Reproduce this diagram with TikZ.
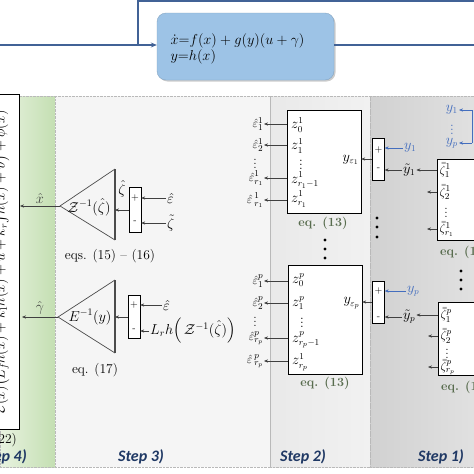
\documentclass[tikz,border=0pt]{standalone}
\usepackage{amsmath,amssymb}
\usepackage{fontspec}
\usepackage{xcolor}
\usetikzlibrary{arrows.meta,shadows}
\newfontfamily\stepfont{Carlito}
\definecolor{topblue}{RGB}{65,98,150}
\definecolor{boxblue}{RGB}{157,195,230}
\definecolor{stepblue}{RGB}{31,56,100}
\definecolor{eqgreen}{RGB}{88,108,78}
\definecolor{yblue}{RGB}{68,110,190}
\definecolor{greenL}{RGB}{232,242,224}
\definecolor{greenR}{RGB}{196,223,178}

\begin{document}
\begin{tikzpicture}[x=1pt,y=-1pt,
  sig/.style={-{Stealth[length=4pt,width=3.2pt]},black!75,line width=0.5pt},
  ysig/.style={sig,yblue},
  topline/.style={topblue,line width=1.4pt},
  sumbox/.style={draw,fill=white,minimum width=12pt,inner sep=0pt},
  zbox/.style={draw,fill=white,minimum width=74pt,inner sep=0pt},
  lbl/.style={inner sep=1pt,font=\fontsize{13.5}{15}\selectfont},
  elbl/.style={inner sep=0.5pt,font=\fontsize{12.5}{14}\selectfont},
  pm/.style={inner sep=0pt,font=\fontsize{10}{12}\selectfont},
  eqtxt/.style={inner sep=1pt,font=\fontsize{12.5}{14}\selectfont\bfseries,text=eqgreen},
  steptxt/.style={inner sep=1pt,font=\stepfont\fontsize{16}{18}\selectfont\bfseries\itshape,text=stepblue},
  dot/.style={circle,fill,inner sep=0pt,minimum size=3.2pt}]
\clip (0,0) rectangle (474,474);
\fill[white] (0,0) rectangle (474,474);

% plant on top
\node[draw=boxblue!85!black,fill=boxblue,rounded corners=9pt,minimum width=177pt,minimum height=67pt,
  drop shadow={shadow xshift=1.5pt,shadow yshift=-1.5pt,opacity=0.4}] (plant) at (245.5,46.5) {};
\node[anchor=west,align=left,font=\fontsize{15}{16.5}\selectfont] (plantxt) at (167,49)
  {$\dot x{=}f(x) + g(y)(u + \gamma)$\\ $y{=}h(x)$};
\coordinate (tin) at (0,45);
\coordinate (tsplit) at (138,45);
\coordinate (tout) at (474,45);
\coordinate (ttop) at (474,1);
\draw[topline,-{Stealth[length=6pt,width=5pt]}] (tin) -- (plant.west |- tin);
\draw[topline] (tsplit) |- (ttop);
\draw[topline] (plant.east |- tout) -- (tout);

% panels
\shade[left color=greenL,right color=greenR] (0,96) rectangle (55,467);
\fill[gray!8] (55,96) rectangle (270,467);
\shade[left color=gray!17,right color=gray!11] (270,96) rectangle (370,467);
\shade[left color=gray!36,right color=gray!24] (370,96) rectangle (474,467);
\foreach \xa/\xb in {0/55,55/270,270/370,370/480}
  \draw[gray!55,densely dotted] (\xa,96) rectangle (\xb,467);

% step 4
\node[draw,fill=white,minimum width=40pt,minimum height=335pt,inner sep=0pt] (ctrl) at (-1,262) {};
\node[rotate=90,font=\fontsize{14}{16}\selectfont] (ctrltxt) at (1,262)
  {$\mathcal{E}(x)\big(L_f h(x) + k_1 h(x) + u + k_r\!\int\! h(x) + \vartheta\big) + \phi(x)$};
\node[lbl,anchor=east] (eq22) at (18,440) {eq. (22)};
\node[steptxt,anchor=east] (st4) at (28,457) {Step 4)};

% step 3: x estimate
\coordinate (zt) at (60,206);
\coordinate (zu) at (115,169);
\coordinate (zl) at (115,240);
\draw[black!70,line width=0.7pt] (zu) -- (zt) -- (zl);
\draw[black!70,line width=1.2pt] (zu) -- (zl);
\node[font=\fontsize{14}{16}\selectfont] (zlab) at (89,207) {$\mathcal{Z}^{-1}(\hat\zeta)$};
\coordinate (xin) at (20,206);
\draw[sig] (zt) -- (xin) node[lbl,midway,above=1pt] (xh) {$\hat x$};
\node[sumbox,minimum height=45pt] (sb3) at (135,210) {};
\node[pm] (sb3p) at (135,198) {+};
\node[pm] (sb3m) at (135,222) {-};
\node[lbl] (zh3) at (122,189) {$\hat\zeta$};
\draw[sig] (sb3.west) -- (sb3.west -| zu);
\node[lbl,anchor=west] (eh3) at (166,198) {$\hat\varepsilon$};
\node[lbl,anchor=west] (zt3) at (166,223) {$\tilde\zeta$};
\draw[sig] (eh3.west) -- (eh3.west -| sb3.east);
\draw[sig] (zt3.west) -- (zt3.west -| sb3.east);
\node[lbl] (eq1516) at (110,256) {eqs. (15) -- (16)};

% step 3: gamma estimate
\coordinate (et) at (58,317);
\coordinate (eu) at (115,280);
\coordinate (el) at (115,353);
\draw[black!70,line width=0.7pt] (eu) -- (et) -- (el);
\draw[black!70,line width=1.2pt] (eu) -- (el);
\node[font=\fontsize{14}{16}\selectfont] (elab) at (90,317) {$E^{-1}(y)$};
\coordinate (gin) at (22,317);
\draw[sig] (et) -- (gin) node[lbl,midway,above=1pt] (gh) {$\hat\gamma$};
\node[sumbox,minimum height=43pt] (sb4) at (134,317) {};
\node[pm] (sb4p) at (134,305) {+};
\node[pm] (sb4m) at (134,330) {-};
\draw[sig] (sb4.west) -- (sb4.west -| eu);
\node[lbl,anchor=west] (eh4) at (162,305) {$\hat\varepsilon$};
\node[anchor=west,inner sep=1pt,font=\fontsize{14}{16}\selectfont] (lrh) at (149,331)
  {$L_r h\Big(\,\mathcal{Z}^{-1}(\hat\zeta)\Big)$};
\draw[sig] (eh4.west) -- (eh4.west -| sb4.east);
\draw[sig] (lrh.west) -- (lrh.west -| sb4.east);
\node[lbl] (eq17) at (95,370) {eq. (17)};
\node[steptxt] (st3) at (141,457) {Step 3)};

% step 2: first output
\node[zbox,minimum height=103pt] (zb1) at (324,161.5) {};
\foreach \n/\y/\lab in {0/125/{z_0^1},1/146/{z_1^1},2/180/{z^1_{r_1-1}},3/199/{z^1_{r_1}}}
  \node[lbl,anchor=west] (z1\n) at (290,\y) {$\lab$};
\node[lbl] (z1d) at (301,162) {$\vdots$};
\foreach \n/\y/\lab in {0/124/{\hat\varepsilon^1_1},1/145/{\hat\varepsilon^1_2},2/178/{\hat\varepsilon^1_{r_1}},3/200/{\hat\varepsilon\,{}^1_{r_1}}}{
  \node[elbl,anchor=east] (e1\n) at (264,\y) {$\lab$};
  \draw[sig] (zb1.west |- e1\n) -- (e1\n.east);
}
\node[elbl] (e1d) at (255,161) {$\vdots$};
\node[lbl,anchor=east] (ye1) at (360,160) {$y_{\varepsilon_1}$};
\node[eqtxt] (eq13a) at (323,223) {eq. (13)};
\foreach \y in {240,249,258}
  \node[dot] (d2\y) at (325,\y) {};

% step 2: last output
\node[zbox,minimum height=109pt] (zb2) at (325,319.5) {};
\foreach \n/\y/\lab in {0/280/{z_0^p},1/303/{z_1^p},2/340/{z^p_{r_p-1}},3/362/{z^1_{r_p}}}
  \node[lbl,anchor=west] (z2\n) at (291,\y) {$\lab$};
\node[lbl] (z2d) at (302,320) {$\vdots$};
\foreach \n/\y/\lab in {0/281/{\hat\varepsilon^p_1},1/303/{\hat\varepsilon^p_2},2/338/{\hat\varepsilon^p_{r_p}},3/361/{\hat\varepsilon\,{}^p_{r_p}}}{
  \node[elbl,anchor=east] (e2\n) at (264,\y) {$\lab$};
  \draw[sig] (zb2.west |- e2\n) -- (e2\n.east);
}
\node[elbl] (e2d) at (255,319) {$\vdots$};
\node[lbl,anchor=east] (ye2) at (361,303) {$y_{\varepsilon_p}$};
\node[eqtxt] (eq13b) at (325,383) {eq. (13)};
\node[steptxt] (st2) at (303,457) {Step 2)};

% step 1: first output
\node[sumbox,minimum height=42pt] (sb1) at (378.5,159) {};
\node[pm] (sb1p) at (378.5,150) {+};
\node[pm] (sb1m) at (378.5,169) {-};
\draw[sig] (sb1.west) -- (zb1.east |- sb1.west);
\node[lbl,anchor=west,text=yblue] (y1) at (403,148) {$y_1$};
\node[lbl,anchor=west] (yt1) at (402,170) {$\tilde y_1$};
\draw[ysig] (y1.west) -- (y1.west -| sb1.east);
\draw[sig] (yt1.west) -- (yt1.west -| sb1.east);
\draw[draw=black,fill=white] (437,159) rectangle (490,240);
\coordinate (s1a) at (437,170);
\draw[sig] (s1a) -- (yt1.east |- s1a);
\foreach \n/\y/\lab in {0/170/{\bar{\bar\zeta}^1_1},1/192/{\bar{\bar\zeta}^1_2},2/229/{\bar{\bar\zeta}^1_{r_1}}}
  \node[elbl,anchor=west] (q1\n) at (439,\y) {$\lab$};
\node[elbl] (q1d) at (446,210) {$\vdots$};
\foreach \n/\y in {1/192,2/229}{
  \coordinate (q1s\n) at (437,\y);
  \coordinate (q1e\n) at (427,\y);
  \draw[sig] (q1s\n) -- (q1e\n);
}
\node[eqtxt,anchor=west] (eq11a) at (439,252) {eq. (11)};
\foreach \y in {218,227,237}
  \node[dot] (d1\y) at (377,\y) {};
\foreach \y in {271,280,289}
  \node[dot] (d3\y) at (461,\y) {};

% measured outputs
\node[lbl,anchor=east,text=yblue] (ym1) at (459,110) {$y_1$};
\node[lbl,text=yblue] (ymd) at (452,127) {$\vdots$};
\node[lbl,anchor=east,text=yblue] (ymp) at (459,143) {$y_p$};
\coordinate (yr1) at (472,110);
\coordinate (yrp) at (472,143);
\draw[yblue,line width=0.8pt] (yr1) -- (yrp);
\draw[ysig] (yr1) -- (ym1.east);
\draw[ysig] (yrp) -- (ymp.east);

% step 1: last output
\node[sumbox,minimum height=42pt] (sb2) at (378.5,302) {};
\node[pm] (sb2p) at (378.5,291) {+};
\node[pm] (sb2m) at (378.5,318) {-};
\draw[sig] (sb2.west) -- (zb2.east |- sb2.west);
\node[lbl,anchor=west,text=yblue] (yp) at (406,291) {$y_p$};
\node[lbl,anchor=west] (ytp) at (402,317) {$\tilde y_p$};
\draw[ysig] (yp.west) -- (yp.west -| sb2.east);
\draw[sig] (ytp.west) -- (ytp.west -| sb2.east);
\draw[draw=black,fill=white] (438,302) rectangle (490,375);
\coordinate (s1b) at (438,315);
\draw[sig] (s1b) -- (ytp.east |- s1b);
\foreach \n/\y/\lab in {0/315/{\bar{\bar\zeta}^p_1},1/336/{\bar{\bar\zeta}^p_2},2/367/{\bar{\bar\zeta}^p_{r_p}}}
  \node[elbl,anchor=west] (q2\n) at (440,\y) {$\lab$};
\node[elbl] (q2d) at (447,351) {$\vdots$};
\foreach \n/\y in {1/336,2/367}{
  \coordinate (q2s\n) at (438,\y);
  \coordinate (q2e\n) at (428,\y);
  \draw[sig] (q2s\n) -- (q2e\n);
}
\node[eqtxt,anchor=west] (eq11b) at (440,387) {eq. (11)};
\node[steptxt] (st1) at (441,457) {Step 1)};
\end{tikzpicture}
\end{document}
